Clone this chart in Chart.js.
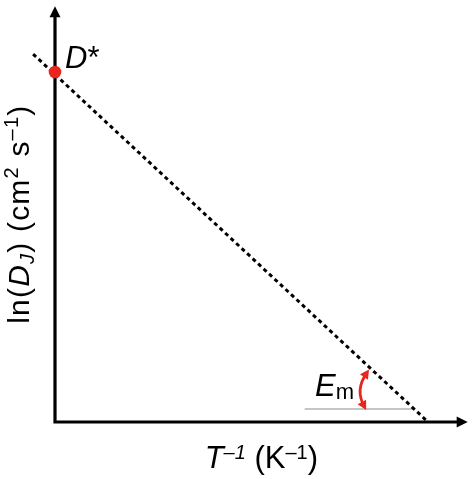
<!DOCTYPE html>
<html>
<head>
<meta charset="utf-8">
<script src="https://cdn.jsdelivr.net/npm/chart.js@4/dist/chart.umd.min.js"></script>
<style>
  html, body { margin: 0; padding: 0; background: #fff; }
  #wrap { width: 474px; height: 479px; position: relative; }
</style>
</head>
<body>
<div id="wrap"><canvas id="arrhenius"></canvas></div>
<script>
// schematic Arrhenius plot, arbitrary units (0..1 on both axes)
const xRange = [0, 1];
const yRange = [0, 1];
// fitted line ln(D) vs 1/T
const lineX = [-0.053, 0.904];
const lineY = [0.885, 0];
// intercept D*
const interceptX = [0];
const interceptY = [0.842];
// grey reference line for the slope angle
const baseX = [0.605, 0.868];
const baseY = [0.031, 0.031];
// ends of the red angle arrow (top on the fit line, bottom on the grey line)
const angleX = [0.761, 0.754];
const angleY = [0.126, 0.029];

const FONT = '"Liberation Sans", Arial, Helvetica, sans-serif';
const RED = "#e8261e";

// text pieces: [text, size, italic, baseline shift]
const yTitle = [
  ["ln(", 30, false, 0],
  ["D", 30, true, 0],
  ["J", 20, true, 5],
  [")", 30, false, 0],
  [" (cm", 30, false, 0],
  ["2", 20, false, -11],
  [" s", 30, false, 0],
  ["\u20131", 20, false, -11],
  [")", 30, false, 0],
];
const xTitle = [
  ["T", 31, true, 0],
  ["\u20131", 20, true, -9],
  [" (K", 31, false, 0],
  ["\u20131", 20, false, -9],
  [")", 31, false, 0],
];
const interceptLabel = [
  ["D", 31, true, 0],
  ["*", 31, false, 0],
];
const slopeLabel = [
  ["E", 31, true, 0],
  ["m", 22, false, 3],
];

function richWidth(ctx, parts) {
  let w = 0;
  parts.forEach(([t, s, it]) => {
    ctx.font = (it ? "italic " : "") + s + "px " + FONT;
    w += ctx.measureText(t).width;
  });
  return w;
}

function drawRich(ctx, parts, x, y) {
  let cx = x;
  parts.forEach(([t, s, it, dy]) => {
    ctx.font = (it ? "italic " : "") + s + "px " + FONT;
    ctx.fillText(t, cx, y + dy);
    cx += ctx.measureText(t).width;
  });
}

function arrowHead(ctx, x, y, dx, dy, len, half) {
  const d = Math.hypot(dx, dy);
  const ux = dx / d, uy = dy / d;
  ctx.beginPath();
  ctx.moveTo(x, y);
  ctx.lineTo(x - ux * len - uy * half, y - uy * len + ux * half);
  ctx.lineTo(x - ux * len + uy * half, y - uy * len - ux * half);
  ctx.closePath();
  ctx.fill();
}

const axesPlugin = {
  id: "axes",
  beforeDatasetsDraw(chart) {
    const ctx = chart.ctx;
    const sx = chart.scales.x, sy = chart.scales.y;
    const x0 = sx.getPixelForValue(xRange[0]);
    const x1 = sx.getPixelForValue(xRange[1]);
    const y0 = sy.getPixelForValue(yRange[0]);
    const y1 = sy.getPixelForValue(yRange[1]);
    ctx.save();
    ctx.strokeStyle = "#000";
    ctx.fillStyle = "#000";
    ctx.lineWidth = 3.2;
    ctx.beginPath();
    ctx.moveTo(x0, y1 + 8);
    ctx.lineTo(x0, y0);
    ctx.lineTo(x1 - 8, y0);
    ctx.stroke();
    arrowHead(ctx, x0, y1, 0, -1, 11, 5.5);
    arrowHead(ctx, x1, y0, 1, 0, 11, 5.5);
    ctx.restore();
  },
  afterDatasetsDraw(chart) {
    const ctx = chart.ctx;
    const sx = chart.scales.x, sy = chart.scales.y;
    const area = chart.chartArea;
    ctx.save();
    ctx.fillStyle = "#000";
    ctx.textBaseline = "alphabetic";

    // y title, rotated, slightly tracked like the original
    ctx.save();
    ctx.letterSpacing = "1.2px";
    const wy = richWidth(ctx, yTitle);
    ctx.translate(29, (area.top + area.bottom) / 2);
    ctx.rotate(-Math.PI / 2);
    drawRich(ctx, yTitle, -wy / 2, 0);
    ctx.restore();

    // x title
    const wx = richWidth(ctx, xTitle);
    drawRich(ctx, xTitle, (area.left + area.right) / 2 - wx / 2, 468);

    // D* next to the intercept
    const px = sx.getPixelForValue(interceptX[0]);
    const py = sy.getPixelForValue(interceptY[0]);
    drawRich(ctx, interceptLabel, px + 10, py - 4);

    // curved red arrow for the activation energy
    const ax0 = sx.getPixelForValue(angleX[0]), ay0 = sy.getPixelForValue(angleY[0]);
    const ax1 = sx.getPixelForValue(angleX[1]), ay1 = sy.getPixelForValue(angleY[1]);
    const cx = Math.min(ax0, ax1) - 11, cy = (ay0 + ay1) / 2;
    ctx.strokeStyle = RED;
    ctx.fillStyle = RED;
    ctx.lineWidth = 2.8;
    ctx.beginPath();
    const s0x = ax0 + (cx - ax0) * 0.2, s0y = ay0 + (cy - ay0) * 0.2;
    const s1x = ax1 + (cx - ax1) * 0.2, s1y = ay1 + (cy - ay1) * 0.2;
    ctx.moveTo(s0x, s0y);
    ctx.quadraticCurveTo(cx, cy, s1x, s1y);
    ctx.stroke();
    arrowHead(ctx, ax0, ay0, ax0 - cx, ay0 - cy, 9, 4.8);
    arrowHead(ctx, ax1, ay1, ax1 - cx, ay1 - cy, 9, 4.8);

    // E_m label
    ctx.fillStyle = "#000";
    drawRich(ctx, slopeLabel, ax0 - 54, ay0 + 26);
    ctx.restore();
  },
};

new Chart(document.getElementById("arrhenius"), {
  type: "scatter",
  data: {
    datasets: [
      {
        label: "reference",
        data: baseX.map((x, i) => ({ x, y: baseY[i] })),
        showLine: true,
        borderColor: "#c6c6c6",
        borderWidth: 2,
        pointRadius: 0,
        order: 3,
      },
      {
        label: "fit",
        data: lineX.map((x, i) => ({ x, y: lineY[i] })),
        showLine: true,
        borderColor: "#000",
        borderWidth: 3,
        borderDash: [4, 3.5],
        pointRadius: 0,
        clip: false,
        order: 2,
      },
      {
        label: "D*",
        data: interceptX.map((x, i) => ({ x, y: interceptY[i] })),
        pointRadius: 6.3,
        pointBackgroundColor: RED,
        pointBorderWidth: 0,
        clip: false,
        order: 1,
      },
    ],
  },
  options: {
    responsive: true,
    maintainAspectRatio: false,
    animation: false,
    layout: { padding: { left: 55, right: 1, top: 3, bottom: 57 } },
    plugins: { legend: { display: false }, tooltip: { enabled: false } },
    scales: {
      x: { type: "linear", display: false, min: xRange[0], max: xRange[1] },
      y: { type: "linear", display: false, min: yRange[0], max: yRange[1] },
    },
  },
  plugins: [axesPlugin],
});
</script>
</body>
</html>
